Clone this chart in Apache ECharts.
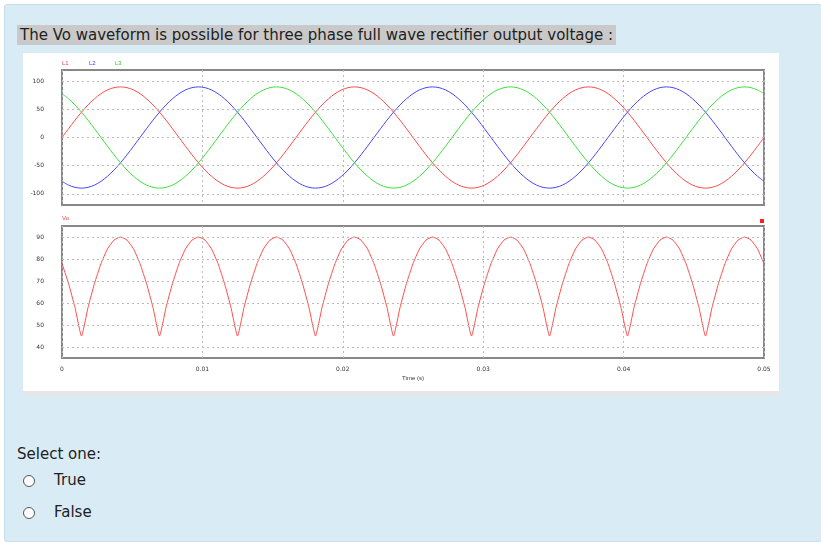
<!DOCTYPE html>
<html><head><meta charset="utf-8">
<script src="https://cdn.jsdelivr.net/npm/echarts@6/dist/echarts.min.js"></script>
<style>
body{margin:0;background:#fff;font-family:"DejaVu Sans",Verdana,sans-serif;}
#panel{position:absolute;left:4px;top:4px;width:816px;height:536px;background:#d9ecf6;border:1px solid #c5dfec;border-radius:3px;}
#q{position:absolute;left:12px;top:20px;font-size:15px;color:#222;background:#c9c9c9;padding:1px 3px;}
#chart{position:absolute;left:18px;top:48px;width:756px;height:343px;background:#fff;}
#bar{position:absolute;left:18px;top:386px;width:756px;height:5px;background:#e6e6e6;}
.t{position:absolute;font-size:15px;color:#222;}
.r{position:absolute;width:10px;height:10px;border:1px solid #555;border-radius:50%;background:#fff;}
</style></head><body>
<div id="panel">
<div id="q">The Vo waveform is possible for three phase full wave rectifier output voltage :</div>
<div id="chart"></div>
<div id="bar"></div>
<div class="t" style="left:12px;top:440px">Select one:</div>
<div class="r" style="left:18px;top:470px"></div><div class="t" style="left:49px;top:466px">True</div>
<div class="r" style="left:18px;top:502px"></div><div class="t" style="left:49px;top:498px">False</div>
</div>
<script>
const stepSeconds = 1/2160;
const cycles = 3;
const L1_cycle = [0,15.6,30.8,45,57.9,68.9,77.9,84.6,88.6,90,88.6,84.6,77.9,68.9,57.9,45,30.8,15.6,0,-15.6,-30.8,-45,-57.9,-68.9,-77.9,-84.6,-88.6,-90,-88.6,-84.6,-77.9,-68.9,-57.9,-45,-30.8,-15.6];
const L2_cycle = [-77.9,-84.6,-88.6,-90,-88.6,-84.6,-77.9,-68.9,-57.9,-45,-30.8,-15.6,0,15.6,30.8,45,57.9,68.9,77.9,84.6,88.6,90,88.6,84.6,77.9,68.9,57.9,45,30.8,15.6,0,-15.6,-30.8,-45,-57.9,-68.9];
const L3_cycle = [77.9,68.9,57.9,45,30.8,15.6,0,-15.6,-30.8,-45,-57.9,-68.9,-77.9,-84.6,-88.6,-90,-88.6,-84.6,-77.9,-68.9,-57.9,-45,-30.8,-15.6,0,15.6,30.8,45,57.9,68.9,77.9,84.6,88.6,90,88.6,84.6];
const Vo_pulse = [77.9,68.9,57.9,45,57.9,68.9,77.9,84.6,88.6,90,88.6,84.6];
const topTicks = [-100,-50,0,50,100];
const botTicks = [40,50,60,70,80,90];

function build(cycle, reps){
  const out=[]; let k=0;
  for(let r=0;r<reps;r++) for(const v of cycle){ out.push([k*stepSeconds, v]); k++; }
  out.push([k*stepSeconds, cycle[0]]);
  return out;
}
const L1 = build(L1_cycle, cycles), L2 = build(L2_cycle, cycles), L3 = build(L3_cycle, cycles);
const Vo = build(Vo_pulse, cycles*3);

const gridLine = {show:true,lineStyle:{color:'#bbb',type:[2,3],width:1}};
const lab = {fontSize:6,color:'#333',fontFamily:'DejaVu Sans'};
const chart = echarts.init(document.getElementById('chart'));
chart.setOption({
  animation:false,
  grid:[{left:39,top:17,width:702,height:135,show:true,borderColor:'#888',borderWidth:2},
        {left:39,top:173,width:702,height:132,show:true,borderColor:'#888',borderWidth:2}],
  xAxis:[
    {gridIndex:0,type:'value',min:0,max:0.05,interval:0.01,axisLabel:{show:false},axisTick:{show:false},axisLine:{show:false},splitLine:gridLine},
    {gridIndex:1,type:'value',min:0,max:0.05,interval:0.01,axisLabel:Object.assign({margin:8},lab),axisTick:{show:false},axisLine:{show:false},splitLine:gridLine,
     name:'Time (s)',nameLocation:'middle',nameGap:17,nameTextStyle:{fontSize:6,color:'#333'}}
  ],
  yAxis:[
    {gridIndex:0,type:'value',min:-120,max:120,axisLabel:Object.assign({customValues:topTicks,margin:18},lab),axisTick:{show:false,customValues:topTicks},axisLine:{show:false},splitLine:{show:false}},
    {gridIndex:1,type:'value',min:35,max:95,axisLabel:Object.assign({customValues:botTicks,margin:18},lab),axisTick:{show:false,customValues:botTicks},axisLine:{show:false},splitLine:{show:false}}
  ],
  graphic:[
    {type:'text',left:39,top:7,style:{text:'L1',fill:'#ff4040',fontSize:6}},
    {type:'text',left:66,top:7,style:{text:'L2',fill:'#4040ff',fontSize:6}},
    {type:'text',left:92,top:7,style:{text:'L3',fill:'#30d030',fontSize:6}},
    {type:'text',left:39,top:162,style:{text:'Vo',fill:'#ff4040',fontSize:6}},
    {type:'rect',left:737,top:166,shape:{width:4,height:4},style:{fill:'#ff2020'}}
  ],
  series:[
    {type:'line',xAxisIndex:0,yAxisIndex:0,data:L1,smooth:0.3,symbol:'none',lineStyle:{color:'#ff4b4b',width:1},
     markLine:{silent:true,symbol:'none',label:{show:false},lineStyle:{color:'#bbb',type:[2,3],width:1},data:topTicks.map(v=>({yAxis:v}))}},
    {type:'line',xAxisIndex:0,yAxisIndex:0,data:L2,smooth:0.3,symbol:'none',lineStyle:{color:'#4646ff',width:1}},
    {type:'line',xAxisIndex:0,yAxisIndex:0,data:L3,smooth:0.3,symbol:'none',lineStyle:{color:'#3ee03e',width:1}},
    {type:'line',xAxisIndex:1,yAxisIndex:1,data:Vo,smooth:0.15,symbol:'none',lineStyle:{color:'#ff4b4b',width:1},
     markLine:{silent:true,symbol:'none',label:{show:false},lineStyle:{color:'#bbb',type:[2,3],width:1},data:botTicks.map(v=>({yAxis:v}))}}
  ]
});
</script></body></html>
